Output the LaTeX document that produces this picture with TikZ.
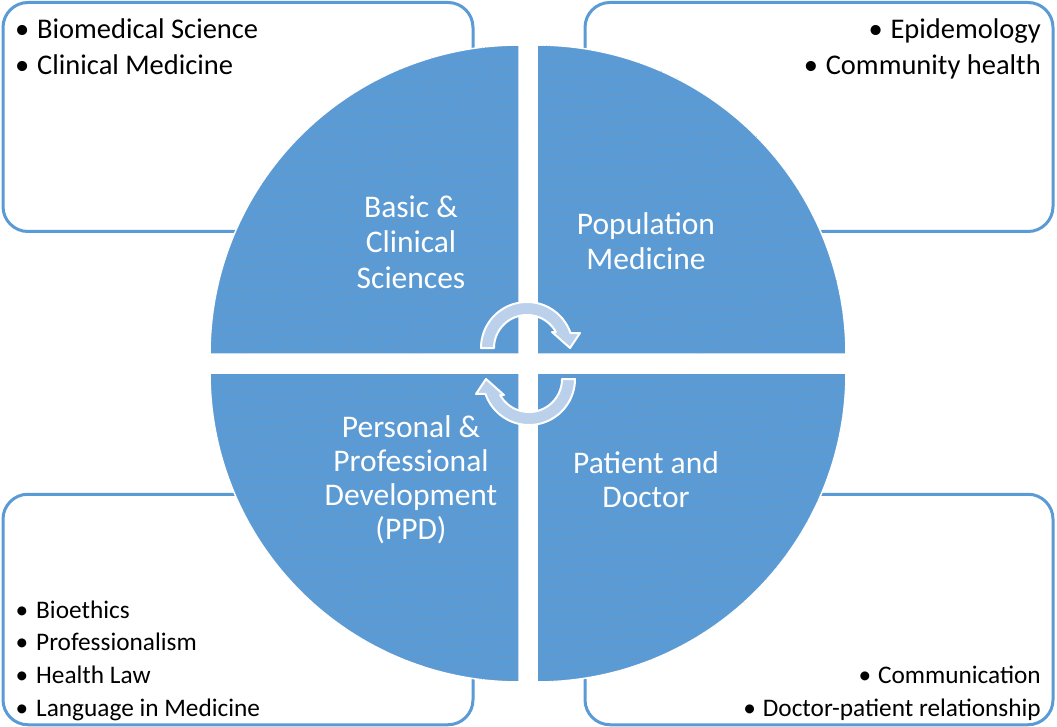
\documentclass[tikz,border=0pt]{standalone}
\usepackage{fontspec}
\setmainfont{Carlito}
\definecolor{qblue}{RGB}{91,155,213}
\definecolor{arrowfill}{RGB}{186,208,235}
\definecolor{texdot}{RGB}{196,128,70}
\begin{document}
\begin{tikzpicture}[x=1pt,y=-1pt,
  listbox/.style={draw=qblue, line width=3pt, rounded corners=25pt, fill=white,
                  minimum width=470pt, minimum height=229pt, inner sep=0pt},
  quad/.style={fill=qblue, draw=white, line width=1.5pt},
  texture/.style={draw=texdot, draw opacity=0.55, line width=0.9pt, line cap=round,
                  dash pattern=on 0pt off 3.2pt},
  qlabel/.style={text=white, font=\fontsize{31.5}{35}\selectfont, anchor=base, inner sep=0pt},
  biglist/.style={font=\fontsize{28.5}{36}\selectfont, inner sep=0pt},
  smalllist/.style={font=\fontsize{25.3}{33}\selectfont, inner sep=0pt},
  cyc/.style={fill=arrowfill, draw=white, line width=2pt, line join=round}]
\useasboundingbox (0,0) rectangle (1057,727);
\fill[white] (0,0) rectangle (1057,727);
% corner boxes
\node[listbox] (boxTL) at (238,117) {};
\node[listbox, minimum width=468pt] (boxTR) at (819,117) {};
\node[listbox, minimum height=230.5pt] (boxBL) at (238,609.5) {};
\node[listbox, minimum width=468pt, minimum height=230.5pt] (boxBR) at (819,609.5) {};
% quadrants
\filldraw[quad] (519,354) -- plot[domain=180:270,samples=80] ({519+309*cos(\x)},{354+309*sin(\x)}) -- cycle;
\filldraw[quad] (537,354) -- plot[domain=270:360,samples=80] ({537+309*cos(\x)},{354+309*sin(\x)}) -- cycle;
\filldraw[quad] (537,373) -- plot[domain=0:90,samples=80] ({537+309*cos(\x)},{373+309*sin(\x)}) -- cycle;
\filldraw[quad] (519,373) -- plot[domain=90:180,samples=80] ({519+309*cos(\x)},{373+309*sin(\x)}) -- cycle;
% dotted texture inside the quadrants
\begin{scope}
\clip (519,353) -- plot[domain=180:270,samples=80] ({519+308*cos(\x)},{353+308*sin(\x)}) -- cycle
      (538,353) -- plot[domain=270:360,samples=80] ({538+308*cos(\x)},{353+308*sin(\x)}) -- cycle
      (538,374) -- plot[domain=0:90,samples=80] ({538+308*cos(\x)},{374+308*sin(\x)}) -- cycle
      (519,374) -- plot[domain=90:180,samples=80] ({519+308*cos(\x)},{374+308*sin(\x)}) -- cycle;
\foreach \k in {0,...,72}{
  \draw[texture] plot[domain=205:855,samples=90]
     (\x,{40+\k*10.5-0.05*(\x-205)+2.5*sin(\x*2.1+\k*37)});
}
\end{scope}
% quadrant labels
\node[qlabel] (b1) at (411,218) {Basic \&};
\node[qlabel] (b2) at (411,253) {Clinical};
\node[qlabel] (b3) at (411,288) {Sciences};
\node[qlabel] (p1) at (646,235) {Population};
\node[qlabel] (p2) at (646,270) {Medicine};
\node[qlabel] (d1) at (411,437) {Personal \&};
\node[qlabel] (d2) at (411,471) {Professional};
\node[qlabel] (d3) at (411,505) {Development};
\node[qlabel] (d4) at (411,539) {(PPD)};
\node[qlabel] (t1) at (646,473) {Patient and};
\node[qlabel] (t2) at (646,507) {Doctor};
% lists
\node[biglist, anchor=base west] (l1) at (15,39) {\makebox[22pt][l]{•}Biomedical Science};
\node[biglist, anchor=base west] (l2) at (15,75) {\makebox[22pt][l]{•}Clinical Medicine};
\node[biglist, anchor=base east] (r1) at (1041,39) {\makebox[22pt][l]{•}Epidemology};
\node[biglist, anchor=base east] (r2) at (1041,75) {\makebox[22pt][l]{•}Community health};
\node[smalllist, anchor=base west] (s1) at (15.4,618) {\makebox[20.6pt][l]{•}Bioethics};
\node[smalllist, anchor=base west] (s2) at (15.4,650) {\makebox[20.6pt][l]{•}Professionalism};
\node[smalllist, anchor=base west] (s3) at (15.4,683) {\makebox[20.6pt][l]{•}Health Law};
\node[smalllist, anchor=base west] (s4) at (15.4,716) {\makebox[20.6pt][l]{•}Language in Medicine};
\node[smalllist, anchor=base east] (c1) at (1041,683) {\makebox[19.5pt][l]{•}Communication};
\node[smalllist, anchor=base east] (c2) at (1041,716) {\makebox[19.5pt][l]{•}Doctor-patient relationship};
% cycle arrows
\draw[cyc] plot[domain=180:341,samples=60] ({527+46*cos(\x)},{348+46*sin(\x)})
   -- (580,333) -- (570,348) -- (552,332)
   -- plot[domain=331:180,samples=60] ({527+33*cos(\x)},{348+33*sin(\x)}) -- cycle;
\begin{scope}[rotate around={180:(528,363.5)}]
\draw[cyc] plot[domain=180:341,samples=60] ({527+46*cos(\x)},{348+46*sin(\x)})
   -- (580,333) -- (570,348) -- (552,332)
   -- plot[domain=331:180,samples=60] ({527+33*cos(\x)},{348+33*sin(\x)}) -- cycle;
\end{scope}
\end{tikzpicture}
\end{document}
